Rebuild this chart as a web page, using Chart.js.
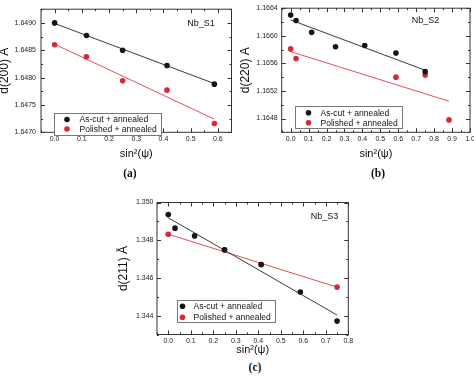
<!DOCTYPE html>
<html>
<head>
<meta charset="utf-8">
<script src="https://cdn.jsdelivr.net/npm/chart.js@4.4.0/dist/chart.umd.min.js"></script>
<style>
  html, body { margin: 0; padding: 0; background: #fff; overflow: hidden; }
  body { width: 474px; height: 383px; position: relative; }
  canvas { position: absolute; }
  .plabel { position: absolute; font: bold 11.5px 'Liberation Serif', 'Times New Roman', serif; color: #111; transform: translate(-50%, -50%); }
</style>
</head>
<body>
<canvas id="chart-a" width="242" height="170" style="left:-2px;top:0"></canvas>
<canvas id="chart-b" width="240" height="170" style="left:240px;top:0"></canvas>
<canvas id="chart-c" width="240" height="170" style="left:116px;top:190px"></canvas>
<div class="plabel" style="left:130px;top:173px">(a)</div>
<div class="plabel" style="left:378px;top:173px">(b)</div>
<div class="plabel" style="left:255px;top:367px">(c)</div>
<script>
// panel (a) Nb_S1, d(200)
const aSin = [0, 0.117, 0.25, 0.413, 0.587];
const aAsCut = [1.64900, 1.64877, 1.64850, 1.64822, 1.64788];
const aPolished = [1.64860, 1.64838, 1.64794, 1.64777, 1.64716];
const aFitSin = [0, 0.587];
const aFitAsCut = [1.64899, 1.64789];
const aFitPolished = [1.64861, 1.64724];
const aXTicks = [0, 0.1, 0.2, 0.3, 0.4, 0.5, 0.6];
const aYTicks = [1.6470, 1.6475, 1.6480, 1.6485, 1.6490];

// panel (b) Nb_S2, d(220)
const bSin = [0, 0.03, 0.117, 0.25, 0.413, 0.587, 0.75];
const bAsCut = [1.16630, 1.16622, 1.16605, 1.16584, 1.16586, 1.16575, 1.16548];
const bPolSin = [0, 0.03, 0.587, 0.75, 0.883];
const bPolished = [1.16581, 1.16567, 1.16540, 1.16543, 1.16478];
const bFitAsCutSin = [0, 0.75];
const bFitAsCut = [1.16623, 1.16550];
const bFitPolSin = [0, 0.883];
const bFitPolished = [1.16577, 1.16505];
const bXTicks = [0, 0.1, 0.2, 0.3, 0.4, 0.5, 0.6, 0.7, 0.8, 0.9, 1.0];
const bYTicks = [1.1648, 1.1652, 1.1656, 1.1660, 1.1664];

// panel (c) Nb_S3, d(211)
const cSin = [0, 0.03, 0.117, 0.25, 0.413, 0.587, 0.75];
const cAsCut = [1.34936, 1.34864, 1.34823, 1.34749, 1.34671, 1.34525, 1.34371];
const cPolSin = [0, 0.25, 0.413, 0.75];
const cPolished = [1.34832, 1.34749, 1.34671, 1.34551];
const cFitSin = [0, 0.75];
const cFitAsCut = [1.34919, 1.34403];
const cFitPolished = [1.34832, 1.34551];
const cXTicks = [0, 0.1, 0.2, 0.3, 0.4, 0.5, 0.6, 0.7, 0.8];
const cYTicks = [1.344, 1.346, 1.348, 1.350];

const BLACK = '#151515';
const RED = '#d8283a';
const FONT = "'Liberation Sans', Arial, sans-serif";
Chart.defaults.font.family = FONT;

const pts = (xs, ys) => xs.map((x, i) => ({ x, y: ys[i] }));

// box around the plot with inward major/minor ticks on all four sides
const framePlugin = {
  id: 'frame',
  afterDatasetsDraw(chart) {
    const { ctx, chartArea: a, scales: { x, y } } = chart;
    ctx.save();
    ctx.strokeStyle = '#333';
    ctx.lineWidth = 1;
    ctx.strokeRect(a.left, a.top, a.right - a.left, a.bottom - a.top);
    const marks = (scale) => {
      const v = scale.ticks.map(t => t.value);
      const step = v[1] - v[0];
      const out = v.map(t => [t, 4]);
      for (let t = v[0] - step / 2; t <= scale.max + 1e-9; t += step) {
        if (t >= scale.min - 1e-9) out.push([t, 2]);
      }
      return out;
    };
    ctx.beginPath();
    marks(x).forEach(([v, len]) => {
      const px = Math.round(x.getPixelForValue(v)) + 0.5;
      ctx.moveTo(px, a.bottom); ctx.lineTo(px, a.bottom - len);
      ctx.moveTo(px, a.top); ctx.lineTo(px, a.top + len);
    });
    marks(y).forEach(([v, len]) => {
      const py = Math.round(y.getPixelForValue(v)) + 0.5;
      ctx.moveTo(a.left, py); ctx.lineTo(a.left + len, py);
      ctx.moveTo(a.right, py); ctx.lineTo(a.right - len, py);
    });
    ctx.stroke();
    ctx.restore();
  }
};

// legend box drawn inside the plot area
const boxLegend = {
  id: 'boxLegend',
  afterDraw(chart, args, o) {
    const { ctx, chartArea: a } = chart;
    const items = o.items.map(i => chart.data.datasets[i]);
    ctx.save();
    ctx.font = '8.5px ' + FONT;
    const tw = Math.max(...items.map(d => ctx.measureText(d.label).width));
    const bx = Math.round(a.left + o.x) + 0.5, by = Math.round(a.top + o.y) + 0.5;
    const bw = Math.round(o.textX + tw + 5), bh = o.h;
    ctx.fillStyle = '#fff';
    ctx.fillRect(bx, by, bw, bh);
    ctx.strokeStyle = '#777';
    ctx.lineWidth = 1;
    ctx.strokeRect(bx, by, bw, bh);
    items.forEach((d, k) => {
      const cy = by + o.first + k * o.rowH;
      ctx.beginPath();
      ctx.arc(bx + o.dotX, cy, d.pointRadius, 0, Math.PI * 2);
      ctx.fillStyle = d.backgroundColor;
      ctx.fill();
      ctx.fillStyle = '#111';
      ctx.textBaseline = 'middle';
      ctx.fillText(d.label, bx + o.textX, cy + 0.5);
    });
    ctx.restore();
  }
};

// sample name in the upper right of the plot
const tagPlugin = {
  id: 'tag',
  afterDraw(chart, args, o) {
    const { ctx, chartArea: a } = chart;
    ctx.save();
    ctx.font = '9px ' + FONT;
    ctx.fillStyle = '#111';
    ctx.textBaseline = 'middle';
    ctx.fillText(o.text, a.left + o.x, a.top + o.y);
    ctx.restore();
  }
};

Chart.register(framePlugin, boxLegend, tagPlugin);

function makeChart(id, p) {
  const datasets = [
    { label: 'As-cut + annealed', data: pts(p.sin, p.asCut), backgroundColor: BLACK, borderColor: BLACK, pointRadius: 2.8, pointBorderWidth: 0, order: 0 },
    { label: 'Polished + annealed', data: pts(p.polSin, p.polished), backgroundColor: RED, borderColor: RED, pointRadius: 2.8, pointBorderWidth: 0, order: 1 },
    { label: 'fit as-cut', data: pts(p.fitASin, p.fitA), showLine: true, borderColor: '#3a3a3a', borderWidth: 1, pointRadius: 0, order: 2 },
    { label: 'fit polished', data: pts(p.fitPSin, p.fitP), showLine: true, borderColor: '#e0505a', borderWidth: 1, pointRadius: 0, order: 3 }
  ];
  return new Chart(document.getElementById(id), {
    type: 'scatter',
    data: { datasets },
    options: {
      responsive: false,
      animation: false,
      devicePixelRatio: 1,
      layout: { padding: p.pad },
      plugins: {
        legend: { display: false },
        tooltip: { enabled: false },
        boxLegend: p.legend,
        tag: p.tag
      },
      scales: {
        x: {
          type: 'linear', min: p.xRange[0], max: p.xRange[1],
          afterFit: s => { s.height = p.xh; },
          afterBuildTicks: s => { s.ticks = p.xTicks.map(v => ({ value: v })); },
          grid: { display: false, drawTicks: false },
          border: { display: false },
          ticks: { callback: v => v.toFixed(1), font: { size: 7 }, color: '#222', padding: 2.5, maxRotation: 0, autoSkip: false },
          title: { display: true, text: 'sin²(ψ)', font: { size: 11 }, color: '#111', padding: { top: 0, bottom: p.xtPad } }
        },
        y: {
          type: 'linear', min: p.yRange[0], max: p.yRange[1],
          afterFit: s => { s.width = p.yw; },
          afterBuildTicks: s => { s.ticks = p.yTicks.map(v => ({ value: v })); },
          grid: { display: false, drawTicks: false },
          border: { display: false },
          ticks: { callback: v => v.toFixed(p.yDec), font: { size: 7 }, color: '#222', padding: p.ytickPad, autoSkip: false },
          title: { display: true, text: p.yTitle, font: { size: 12, lineHeight: 1 }, color: '#111', padding: { top: p.ytPad, bottom: 0 } }
        }
      }
    }
  });
}

makeChart('chart-a', {
  sin: aSin, asCut: aAsCut, polSin: aSin, polished: aPolished,
  fitASin: aFitSin, fitA: aFitAsCut, fitPSin: aFitSin, fitP: aFitPolished,
  xTicks: aXTicks, yTicks: aYTicks, xRange: [-0.05, 0.65], yRange: [1.6470, 1.64925], yDec: 4,
  yTitle: 'd(200) Å', pad: { left: 0, top: 0, right: 8.5, bottom: 0 },
  yw: 43, xh: 37.7, xtPad: 9.4, ytPad: 1, ytickPad: 5,
  legend: { items: [0, 1], x: 13.3, y: 104, h: 22, first: 6, rowH: 9.5, dotX: 12.5, textX: 25 },
  tag: { text: 'Nb_S1', x: 146.3, y: 14 }
});

makeChart('chart-b', {
  sin: bSin, asCut: bAsCut, polSin: bPolSin, polished: bPolished,
  fitASin: bFitAsCutSin, fitA: bFitAsCut, fitPSin: bFitPolSin, fitP: bFitPolished,
  xTicks: bXTicks, yTicks: bYTicks, xRange: [-0.05, 1.0], yRange: [1.1646, 1.1664], yDec: 4,
  yTitle: 'd(220) Å', pad: { left: 0, top: 3.6, right: 10, bottom: 0 },
  yw: 41.7, xh: 37.7, xtPad: 9.4, ytPad: 0, ytickPad: 4,
  legend: { items: [0, 1], x: 13.6, y: 97.5, h: 22, first: 6.3, rowH: 10, dotX: 13, textX: 25 },
  tag: { text: 'Nb_S2', x: 130, y: 12.2 }
});

makeChart('chart-c', {
  sin: cSin, asCut: cAsCut, polSin: cPolSin, polished: cPolished,
  fitASin: cFitSin, fitA: cFitAsCut, fitPSin: cFitSin, fitP: cFitPolished,
  xTicks: cXTicks, yTicks: cYTicks, xRange: [-0.05, 0.8], yRange: [1.343, 1.350], yDec: 3,
  yTitle: 'd(211) Å', pad: { left: 0, top: 12.5, right: 7.7, bottom: 0 },
  yw: 41, xh: 25.5, xtPad: 3.4, ytPad: 2, ytickPad: 3.5,
  legend: { items: [0, 1], x: 19.7, y: 97.7, h: 22, first: 5.7, rowH: 11, dotX: 5, textX: 16 },
  tag: { text: 'Nb_S3', x: 153.7, y: 14.4 }
});
</script>
</body>
</html>
